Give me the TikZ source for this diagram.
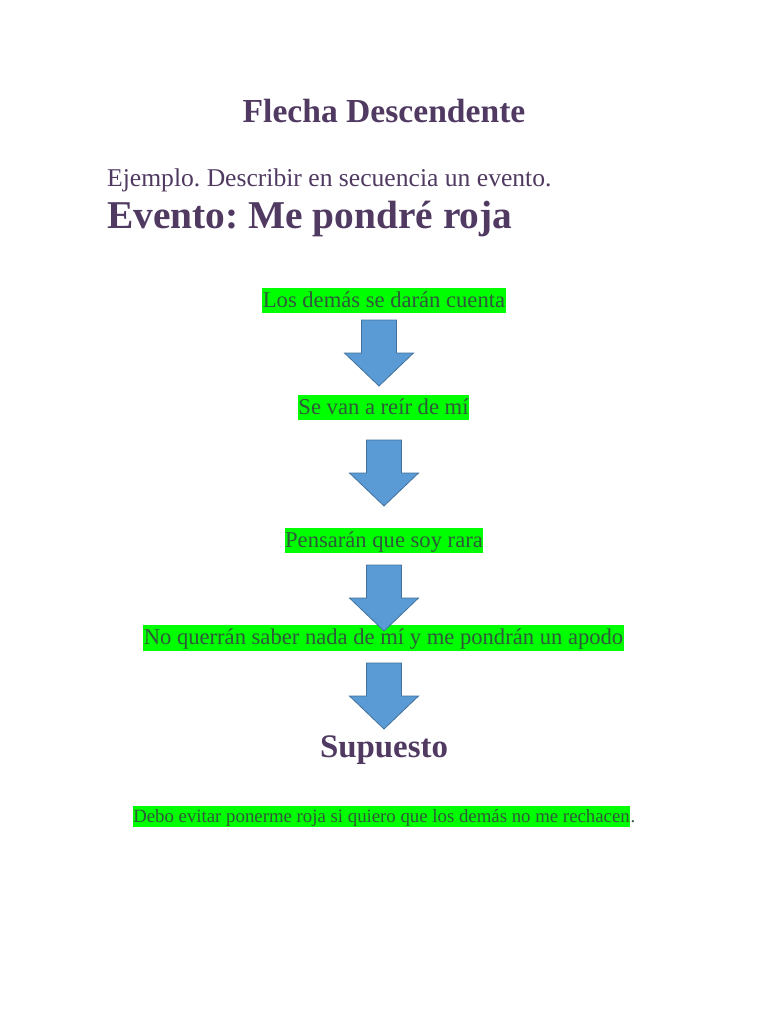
\documentclass[tikz,border=0pt]{standalone}
\usepackage{fontspec}
\setmainfont{Liberation Serif}
\frenchspacing
\definecolor{titlepurple}{RGB}{80,58,98}
\definecolor{hlgreen}{RGB}{0,255,0}
\definecolor{hltext}{RGB}{48,88,58}
\definecolor{arrowblue}{RGB}{91,155,213}
\definecolor{arrowedge}{RGB}{65,113,156}
\newcommand{\fsize}[1]{\fontsize{#1}{#1}\selectfont}

\begin{document}
\begin{tikzpicture}[x=1pt,y=-1pt,
    heading/.style={text=titlepurple, anchor=base, inner sep=0},
    stepbox/.style={fill=hlgreen, text=hltext, inner xsep=.5pt, inner ysep=1pt,
                    text height=18.6pt, text depth=5.2pt, font=\fsize{22.6}},
    blockarrow/.style={fill=arrowblue, draw=arrowedge, line width=.8pt, line join=miter}]
        \fill[white] (0,0) rectangle (768,1024);
        \useasboundingbox (0,0) rectangle (768,1024);

        % titles
        \node (title) at (384,123) [heading, font=\bfseries\fsize{33.6}] {Flecha Descendente};
        \node (ejemplo) at (107,187) [heading, anchor=base west, font=\fsize{25.6}]
                {Ejemplo. Describir en secuencia un evento.};
        \node (evento) at (107,229) [heading, anchor=base west, font=\bfseries\fsize{39.4}]
                {Evento: Me pondré roja};

        % sequence
        \node (b1) at (384,300.5)  [stepbox] {Los demás se darán cuenta};
        \node (b2) at (383.5,407.5)[stepbox] {Se van a reír de mí};
        \node (b3) at (384,540.5)  [stepbox] {Pensarán que soy rara};
        \node (b4) at (383.5,638)  [stepbox] {No querrán saber nada de mí y me pondrán un apodo};

        \foreach \ax/\ay in {379/320, 384/440, 384/565, 384/663}
                 {
                   \draw[blockarrow] (\ax-17.5,\ay) -- (\ax+17.5,\ay) -- (\ax+17.5,\ay+33)
                         -- (\ax+34.5,\ay+33) -- (\ax,\ay+66) -- (\ax-34.5,\ay+33)
                         -- (\ax-17.5,\ay+33) -- cycle;
                 }

        \node (supuesto) at (384,757) [heading, font=\bfseries\fsize{32.9}] {Supuesto};
        \node (conc) at (381.5,816.5) [stepbox, text height=15.4pt, text depth=4.4pt,
                font=\fsize{18.8}]
                {Debo evitar ponerme roja si quiero que los demás no me rechacen};
        \node (punto) at (conc.base east) [anchor=base west, inner sep=0, text=hltext,
                font=\fsize{18.8}] {.};
      \end{tikzpicture}
\end{document}
